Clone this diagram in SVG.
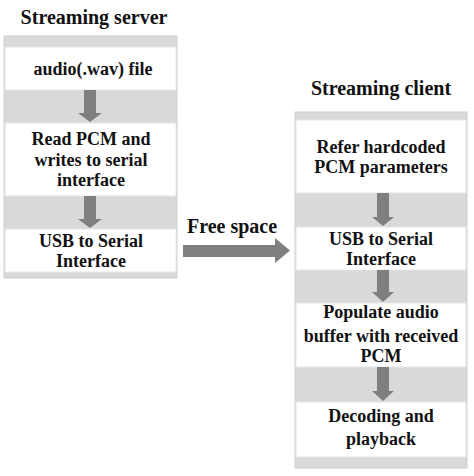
<svg xmlns="http://www.w3.org/2000/svg" width="474" height="476" viewBox="0 0 474 476">
<style>
.title{font-family:'Liberation Serif',serif;font-weight:bold;font-size:20px;fill:#111;text-anchor:middle}
.t{font-family:'Liberation Serif',serif;font-weight:bold;font-size:18px;fill:#111;text-anchor:middle}
.panel{fill:#d9d9d9;stroke:#cfcfcf;stroke-width:1}
.box{fill:#ffffff;stroke:#e6e6e6;stroke-width:1}
.arr{fill:#7f7f7f}
</style>
<rect width="474" height="476" fill="#ffffff"/>
<g id="server">
<text class="title" x="94" y="24">Streaming server</text>
<rect class="panel" x="4" y="36" width="173" height="242"/>
<g id="s1"><rect class="box" x="5" y="47" width="171" height="43"/><text class="t" x="93" y="75">audio(.wav) file</text></g>
<g id="s2"><rect class="box" x="5" y="123" width="171" height="73"/><text class="t" x="91" y="145">Read PCM and</text><text class="t" x="91" y="166">writes to serial</text><text class="t" x="91" y="186">interface</text></g>
<g id="s3"><rect class="box" x="5" y="229" width="171" height="43"/><text class="t" x="91" y="247">USB to Serial</text><text class="t" x="91" y="267">Interface</text></g>
</g>
<g id="client">
<text class="title" x="381" y="95">Streaming client</text>
<rect class="panel" x="295" y="112" width="172" height="356"/>
<g id="c1"><rect class="box" x="296" y="120" width="170" height="73"/><text class="t" x="381" y="153">Refer hardcoded</text><text class="t" x="381" y="173">PCM parameters</text></g>
<g id="c2"><rect class="box" x="296" y="227" width="170" height="43"/><text class="t" x="381" y="245">USB to Serial</text><text class="t" x="381" y="265">Interface</text></g>
<g id="c3"><rect class="box" x="296" y="303" width="170" height="64"/><text class="t" x="381" y="318">Populate audio</text><text class="t" x="381" y="342">buffer with received</text><text class="t" x="381" y="362">PCM</text></g>
<g id="c4"><rect class="box" x="296" y="402" width="170" height="55"/><text class="t" x="381" y="422">Decoding and</text><text class="t" x="381" y="445">playback</text></g>
</g>
<g id="connectors">
<path class="arr" d="M84 90 H96 V113 H102 L90 122 L78 113 H84 Z"/>
<path class="arr" d="M84 196 H96 V219 H102 L90 228 L78 219 H84 Z"/>
<path class="arr" d="M377 193 H389 V217 H394 L383 226 L372 217 H377 Z"/>
<path class="arr" d="M377 270 H389 V292 H394 L383 302 L372 292 H377 Z"/>
<path class="arr" d="M377 367 H389 V391 H394 L383 401 L372 391 H377 Z"/>
<path class="arr" d="M183 245 H275 V238 L290 250.5 L275 263 V257 H183 Z"/>
<text class="title" x="232" y="233">Free space</text>
</g>
</svg>
